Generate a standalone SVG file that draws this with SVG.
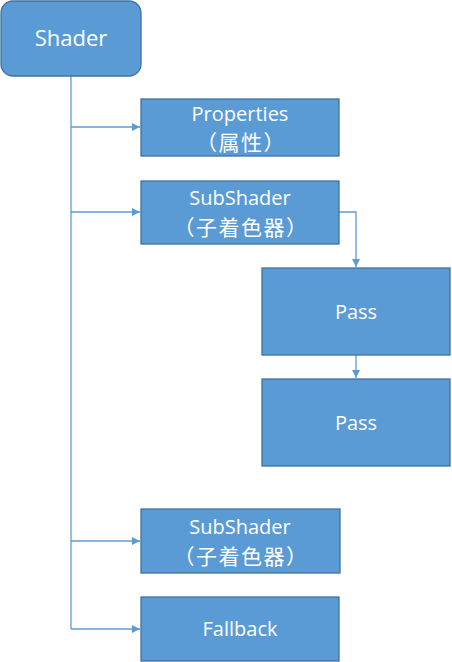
<svg xmlns="http://www.w3.org/2000/svg" width="452" height="662" viewBox="0 0 452 662">
<defs>
<marker id="ah" markerWidth="8" markerHeight="8" refX="8" refY="4" orient="auto" markerUnits="userSpaceOnUse">
<path d="M0,0 L8,4 L0,8 Z" fill="#5B9BD5"/>
</marker>
<style>
.box{fill:#5B9BD5;stroke:#41719C;stroke-width:1.3}
.t{fill:#fff;font-family:"Open Sans","Noto Sans CJK SC",sans-serif;font-size:20px;text-anchor:middle}
.cjk{font-size:21px;letter-spacing:1.5px}
.c{fill:none;stroke:#5B9BD5;stroke-width:1.3}
</style>
</defs>
<rect width="452" height="662" fill="#fff"/>
<g id="connectors">
<path class="c" d="M71,76 V629"/>
<path class="c" d="M71,127 H140" marker-end="url(#ah)"/>
<path class="c" d="M71,212 H140" marker-end="url(#ah)"/>
<path class="c" d="M71,541 H140" marker-end="url(#ah)"/>
<path class="c" d="M71,629 H140" marker-end="url(#ah)"/>
<path class="c" d="M339,212 H356 V267" marker-end="url(#ah)"/>
<path class="c" d="M356,355 V378" marker-end="url(#ah)"/>
</g>
<g id="shader">
<rect class="box" x="1" y="1" width="140" height="75" rx="12"/>
<text class="t" x="71" y="46" style="font-size:22px">Shader</text>
</g>
<g id="properties">
<rect class="box" x="141" y="99" width="198" height="57"/>
<text class="t" x="240" y="121">Properties</text>
<text class="t cjk" x="241" y="150">（属性）</text>
</g>
<g id="subshader1">
<rect class="box" x="141" y="181" width="198" height="63"/>
<text class="t" x="240" y="205">SubShader</text>
<text class="t cjk" x="241" y="235">（子着色器）</text>
</g>
<g id="pass1">
<rect class="box" x="262" y="268" width="188" height="87"/>
<text class="t" x="356" y="319">Pass</text>
</g>
<g id="pass2">
<rect class="box" x="262" y="379" width="188" height="87"/>
<text class="t" x="356" y="430">Pass</text>
</g>
<g id="subshader2">
<rect class="box" x="141" y="509" width="199" height="64"/>
<text class="t" x="240" y="534">SubShader</text>
<text class="t cjk" x="241" y="564">（子着色器）</text>
</g>
<g id="fallback">
<rect class="box" x="141" y="597" width="198" height="64"/>
<text class="t" x="240" y="636">Fallback</text>
</g>
</svg>
